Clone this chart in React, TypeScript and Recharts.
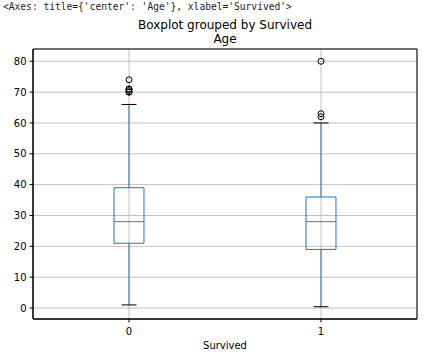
import * as React from "react"
import {
  ComposedChart,
  XAxis,
  YAxis,
  CartesianGrid,
  ReferenceArea,
  ReferenceLine,
  Scatter,
} from "recharts"

// box statistics per group (Survived = 0 / 1)
const categories = ["0", "1"]
const positions = [1, 2]
const whiskerLow = [1, 0.42]
const q1 = [21, 19]
const median = [28, 28]
const q3 = [39, 36]
const whiskerHigh = [66, 60]
const outliers = [
  [70, 70, 70.5, 71, 71, 74],
  [62, 63, 80],
]
const yTicks = [0, 10, 20, 30, 40, 50, 60, 70, 80]

const BOX_HALF = 0.078
const CAP_HALF = 0.039
const Y_DOMAIN: [number, number] = [-3.56, 83.98]
const X_DOMAIN: [number, number] = [0.5, 2.5]
const BLUE = "#1f77b4"
const GREEN = "#2ca02c"
const FONT = "'DejaVu Sans', sans-serif"

const outlierData = outliers.flatMap((vals, i) => vals.map((v) => ({ x: positions[i], y: v })))

const OutlierDot = (props: any) => {
  const { cx, cy } = props
  if (cx == null || cy == null) return null
  return <circle cx={cx} cy={cy} r={3} fill="none" stroke="#000" strokeWidth={1} />
}

export default function App() {
  const tick = { fontSize: 10, fill: "#000", fontFamily: FONT }
  return (
    <div style={{ position: "absolute", left: 0, top: 0, width: 447, height: 360, background: "#fff" }}>
      <div
        style={{
          position: "absolute",
          left: 3,
          top: 1,
          fontFamily: "'DejaVu Sans Mono', monospace",
          fontSize: 9.6,
          lineHeight: "12px",
          color: "#222",
          whiteSpace: "pre",
        }}
      >
        {"<Axes: title={'center': 'Age'}, xlabel='Survived'>"}
      </div>
      <div
        style={{
          position: "absolute",
          left: 33,
          width: 384,
          top: 18,
          textAlign: "center",
          fontFamily: FONT,
          fontSize: 12,
          lineHeight: "14px",
          color: "#000",
        }}
      >
        Boxplot grouped by Survived
        <br />
        Age
      </div>
      <div
        style={{
          position: "absolute",
          left: 33,
          width: 384,
          top: 340,
          textAlign: "center",
          fontFamily: FONT,
          fontSize: 10,
          lineHeight: "12px",
          color: "#000",
        }}
      >
        Survived
      </div>
      <ComposedChart
        width={447}
        height={360}
        margin={{ top: 49, right: 30, bottom: 0, left: 0 }}
        style={{ position: "absolute", left: 0, top: 0 }}
      >
        <CartesianGrid stroke="#b0b0b0" strokeWidth={0.8} />
        <XAxis
          dataKey="x"
          type="number"
          domain={X_DOMAIN}
          ticks={positions}
          allowDataOverflow
          tickFormatter={(v: number) => categories[positions.indexOf(v)] ?? ""}
          height={41}
          tick={tick}
          tickSize={3.5}
          tickMargin={5}
          axisLine={{ stroke: "#000" }}
          tickLine={{ stroke: "#000" }}
        />
        <YAxis
          dataKey="y"
          type="number"
          domain={Y_DOMAIN}
          ticks={yTicks}
          allowDataOverflow
          width={33}
          tick={tick}
          tickSize={3.5}
          tickMargin={3}
          axisLine={{ stroke: "#000" }}
          tickLine={{ stroke: "#000" }}
        />
        {/* frame */}
        <ReferenceArea
          x1={X_DOMAIN[0]}
          x2={X_DOMAIN[1]}
          y1={Y_DOMAIN[0]}
          y2={Y_DOMAIN[1]}
          fill="none"
          fillOpacity={0}
          stroke="#000"
          strokeWidth={1}
          strokeOpacity={1}
        />
        {positions.map((p, i) => (
          <React.Fragment key={i}>
            <ReferenceLine
              segment={[{ x: p, y: whiskerLow[i] }, { x: p, y: q1[i] }]}
              stroke={BLUE}
              strokeWidth={1}
            />
            <ReferenceLine
              segment={[{ x: p, y: q3[i] }, { x: p, y: whiskerHigh[i] }]}
              stroke={BLUE}
              strokeWidth={1}
            />
            <ReferenceArea
              x1={p - BOX_HALF}
              x2={p + BOX_HALF}
              y1={q1[i]}
              y2={q3[i]}
              fill="none"
              fillOpacity={0}
              stroke={BLUE}
              strokeWidth={1}
              strokeOpacity={1}
            />
            <ReferenceLine
              segment={[{ x: p - BOX_HALF, y: median[i] }, { x: p + BOX_HALF, y: median[i] }]}
              stroke={GREEN}
              strokeWidth={1}
            />
            <ReferenceLine
              segment={[{ x: p - CAP_HALF, y: whiskerLow[i] }, { x: p + CAP_HALF, y: whiskerLow[i] }]}
              stroke="#000"
              strokeWidth={1}
            />
            <ReferenceLine
              segment={[{ x: p - CAP_HALF, y: whiskerHigh[i] }, { x: p + CAP_HALF, y: whiskerHigh[i] }]}
              stroke="#000"
              strokeWidth={1}
            />
          </React.Fragment>
        ))}
        <Scatter data={outlierData} dataKey="y" shape={OutlierDot} isAnimationActive={false} />
      </ComposedChart>
    </div>
  )
}
